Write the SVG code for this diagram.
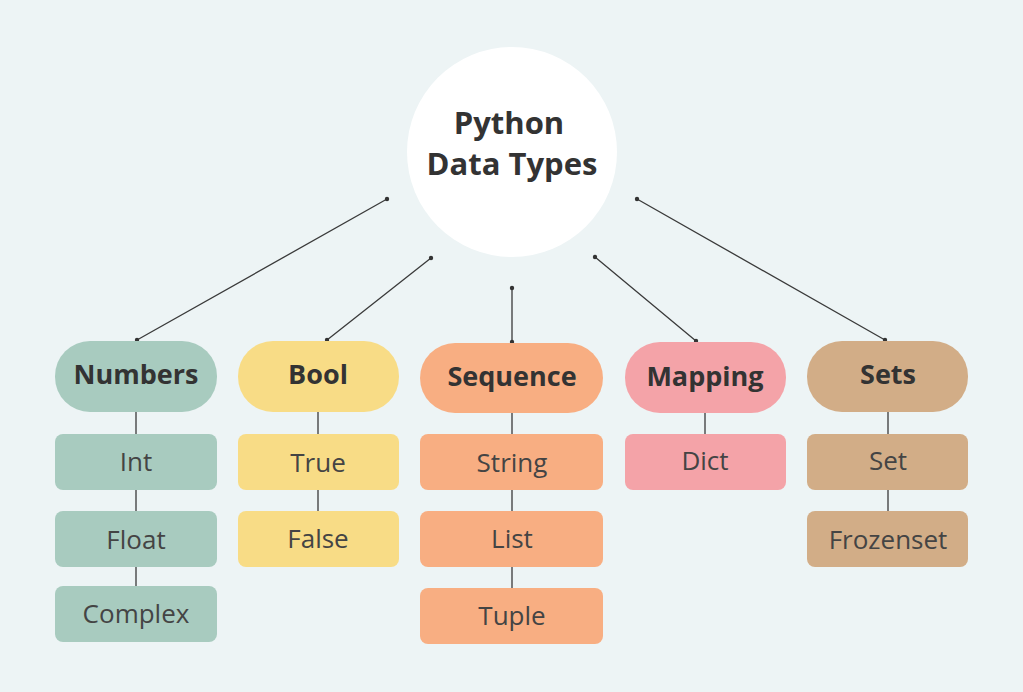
<svg xmlns="http://www.w3.org/2000/svg" width="1023" height="692" viewBox="0 0 1023 692">
<style>
text{font-family:"Open Sans","Lato",sans-serif;fill:#333;text-anchor:middle}
.h{font-size:27px;font-weight:bold}
.c{font-size:26px;fill:#444}
.l{stroke:#3a3a3a;stroke-width:1.3;fill:none}
.n{fill:#a8cbbf}.b{fill:#f8dc86}.s{fill:#f8ae82}.m{fill:#f4a3a8}.t{fill:#d2ad87}
</style>
<rect width="1023" height="692" fill="#edf4f5"/>
<g id="connectors">
<path class="l" d="M387 199L137 340M431 258L327 340M512 288V342M595 257L696 341M637 199L885 340"/>
<g fill="#333"><circle cx="387" cy="199" r="2.2"/><circle cx="137" cy="340" r="2.2"/><circle cx="431" cy="258" r="2.2"/><circle cx="327" cy="340" r="2.2"/><circle cx="512" cy="288" r="2.2"/><circle cx="512" cy="342" r="2.2"/><circle cx="595" cy="257" r="2.2"/><circle cx="696" cy="341" r="2.2"/><circle cx="637" cy="199" r="2.2"/><circle cx="885" cy="340" r="2.2"/></g>
<path class="l" d="M136 412V586M318 412V511M512 413V588M705 413V434M888 412V511"/>
</g>
<g id="root"><circle cx="512" cy="152" r="105" fill="#fff"/><text class="h" x="509" y="134" style="font-size:31px">Python</text><text class="h" x="512" y="175" style="font-size:31px">Data Types</text></g>
<g id="numbers"><rect class="n" x="55" y="341" width="162" height="71" rx="35"/><text class="h" x="136" y="384">Numbers</text></g>
<g id="int"><rect class="n" x="55" y="434" width="162" height="56" rx="8"/><text class="c" x="136" y="471">Int</text></g>
<g id="float"><rect class="n" x="55" y="511" width="162" height="56" rx="8"/><text class="c" x="136" y="549">Float</text></g>
<g id="complex"><rect class="n" x="55" y="586" width="162" height="56" rx="8"/><text class="c" x="136" y="623">Complex</text></g>
<g id="bool"><rect class="b" x="238" y="341" width="161" height="71" rx="35"/><text class="h" x="318" y="384">Bool</text></g>
<g id="true"><rect class="b" x="238" y="434" width="161" height="56" rx="8"/><text class="c" x="318" y="472">True</text></g>
<g id="false"><rect class="b" x="238" y="511" width="161" height="56" rx="8"/><text class="c" x="318" y="548">False</text></g>
<g id="sequence"><rect class="s" x="420" y="343" width="183" height="70" rx="35"/><text class="h" x="512" y="386">Sequence</text></g>
<g id="string"><rect class="s" x="420" y="434" width="183" height="56" rx="8"/><text class="c" x="512" y="472">String</text></g>
<g id="list"><rect class="s" x="420" y="511" width="183" height="56" rx="8"/><text class="c" x="512" y="548">List</text></g>
<g id="tuple"><rect class="s" x="420" y="588" width="183" height="56" rx="8"/><text class="c" x="512" y="625">Tuple</text></g>
<g id="mapping"><rect class="m" x="625" y="342" width="161" height="71" rx="35"/><text class="h" x="705" y="386">Mapping</text></g>
<g id="dict"><rect class="m" x="625" y="434" width="161" height="56" rx="8"/><text class="c" x="705" y="470">Dict</text></g>
<g id="sets"><rect class="t" x="807" y="341" width="161" height="71" rx="35"/><text class="h" x="888" y="384">Sets</text></g>
<g id="set"><rect class="t" x="807" y="434" width="161" height="56" rx="8"/><text class="c" x="888" y="470">Set</text></g>
<g id="frozenset"><rect class="t" x="807" y="511" width="161" height="56" rx="8"/><text class="c" x="888" y="549">Frozenset</text></g>
</svg>
